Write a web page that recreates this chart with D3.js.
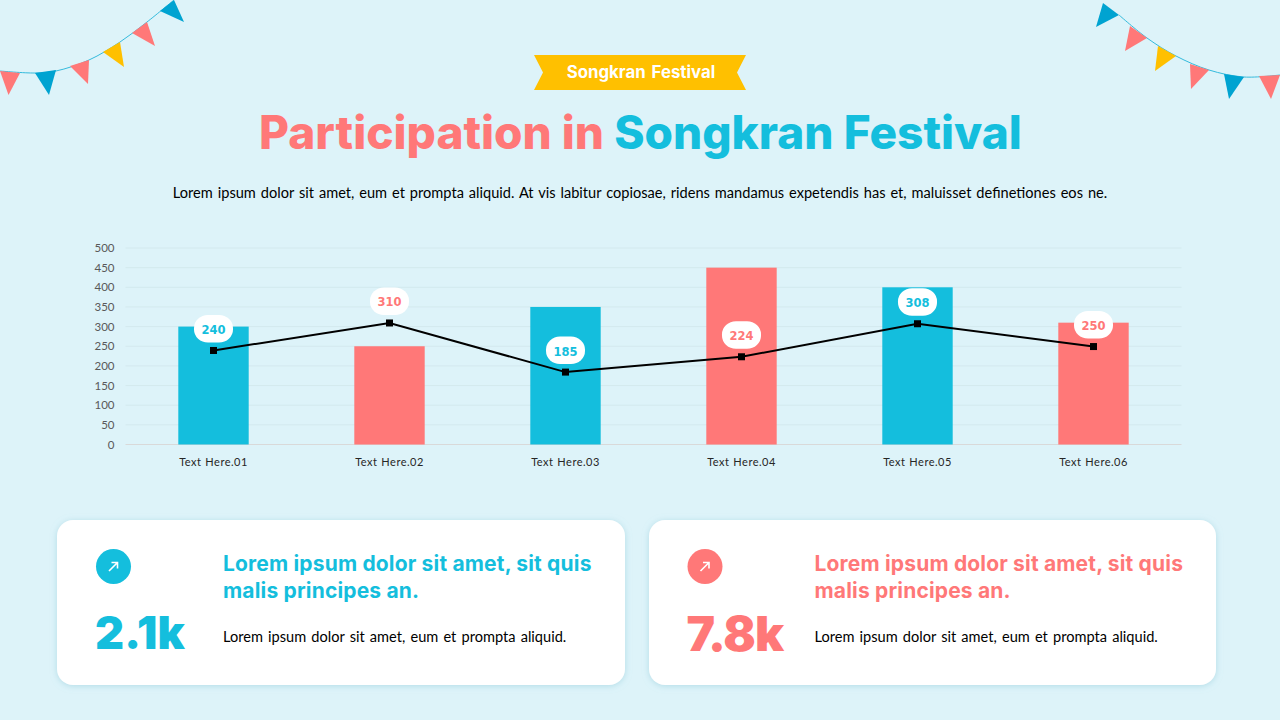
<!DOCTYPE html>
<html><head><meta charset="utf-8">
<script src="https://cdn.jsdelivr.net/npm/d3@7"></script>
<style>html,body{margin:0;padding:0;background:#DDF3F9}svg{display:block}</style></head>
<body><svg id="c" width="1280" height="720"></svg>
<script>
const categories=["Text Here.01","Text Here.02","Text Here.03","Text Here.04","Text Here.05","Text Here.06"];
const barValues=[300,250,350,450,400,310];
const lineValues=[240,310,185,224,308,250];
const yTicks=[0,50,100,150,200,250,300,350,400,450,500];
const BLUE="#14BEDD",RED="#FF7878",YEL="#FFC000",FLAG="#00A3D1";
const barColors=[BLUE,RED,BLUE,RED,BLUE,RED];
const labelColors=[BLUE,RED,BLUE,RED,BLUE,RED];
const flagsLeft=[[[0,71],[20,73],[8.5,95],RED],[[35,73],[56,70],[49,95],FLAG],[[70,66],[89,60],[88,84],RED],[[103,52],[120,42],[124,67],YEL],[[132,33],[147,22],[155,46],RED],[[160,11],[174,0],[184,22],FLAG]];
const flagsRight=[[[1103,3],[1119,15],[1096,27],FLAG],[[1130,26],[1147,38],[1125,51],RED],[[1158,46],[1176,56],[1155,71],YEL],[[1190,64],[1209,70],[1191,89],RED],[[1224,74],[1244,77],[1229,99],FLAG],[[1259,76],[1280,75],[1271,99],RED]];
const stringLeft=[[0,71],[35,73],[56,71],[89,60],[120,42],[147,22],[174,0]];
const stringRight=[[1119,15],[1147,38],[1176,56],[1209,70],[1244,77],[1280,75]];

const svg=d3.select("#c");
const defs=svg.append("defs");
const f=defs.append("filter").attr("id","sh").attr("x","-5%").attr("y","-10%").attr("width","110%").attr("height","120%");
f.append("feDropShadow").attr("dx",0).attr("dy",1).attr("stdDeviation",3).attr("flood-color","#8fc9d8").attr("flood-opacity",.55);

const sl=d3.line().curve(d3.curveCatmullRom);
[stringLeft,stringRight].forEach(s=>svg.append("path").attr("d",sl(s)).attr("fill","none").attr("stroke","#35BBDD").attr("stroke-width",1));
svg.append("g").selectAll("path").data(flagsLeft.concat(flagsRight)).join("path")
 .attr("d",d=>"M"+d.slice(0,3).map(p=>p.join(",")).join("L")+"Z").attr("fill",d=>d[3]);

svg.append("path").attr("d","M534,55H746L737,72.5L746,90H534L543,72.5Z").attr("fill",YEL);
svg.append("text").attr("x",641).attr("y",78).attr("text-anchor","middle").attr("fill","#fff")
 .attr("font-family","Inter").attr("font-weight",700).attr("font-size",16.8).attr("word-spacing",2).text("Songkran Festival");

const t=svg.append("text").attr("x",640.5).attr("y",149).attr("text-anchor","middle")
 .attr("font-family","Inter").attr("font-weight",800).attr("font-size",46).attr("letter-spacing",0);
t.append("tspan").attr("fill",RED).text("Participation in ");
t.append("tspan").attr("fill",BLUE).text("Songkran Festival");

svg.append("text").attr("x",640).attr("y",198).attr("text-anchor","middle").attr("fill","#000")
 .attr("font-family","Lato").attr("font-size",14.6).attr("word-spacing",1.2)
 .text("Lorem ipsum dolor sit amet, eum et prompta aliquid. At vis labitur copiosae, ridens mandamus expetendis has et, maluisset definetiones eos ne.");

const x=d3.scaleBand().domain(categories).range([125.5,1181.5]).paddingInner(.6).paddingOuter(.3);
const y=d3.scaleLinear().domain([0,500]).range([444.5,248]);
const g=svg.append("g");
g.append("g").selectAll("line").data(yTicks).join("line")
 .attr("x1",125.5).attr("x2",1181.5).attr("y1",d=>y(d)).attr("y2",d=>y(d))
 .attr("stroke",d=>d===0?"#D9D9D9":"#D3E9EE").attr("stroke-width",1);
const ax=g.append("g").attr("transform","translate(125.5,0)").call(d3.axisLeft(y).tickValues(yTicks).tickSize(0).tickPadding(11));
ax.select(".domain").remove();
ax.selectAll("text").attr("font-family","Lato").attr("font-size",11.5).attr("fill","#595959");
g.selectAll(".bar").data(barValues).join("rect").attr("class","bar")
 .attr("x",(d,i)=>x(categories[i])).attr("width",x.bandwidth())
 .attr("y",d=>y(d)).attr("height",d=>y(0)-y(d)).attr("fill",(d,i)=>barColors[i]);
const ax2=g.append("g").attr("transform","translate(0,446.5)").call(d3.axisBottom(x).tickSize(0).tickPadding(12));
ax2.select(".domain").remove();
ax2.selectAll("text").attr("font-family","Lato").attr("font-size",11).attr("letter-spacing",.5).attr("word-spacing",.6).attr("fill","#262626");
const cx=i=>x(categories[i])+x.bandwidth()/2;
const over=g.append("g").attr("transform","translate(0,.3)");
over.append("path").attr("d",d3.line().x((d,i)=>cx(i)).y(d=>y(d))(lineValues)).attr("fill","none").attr("stroke","#000").attr("stroke-width",2);
over.selectAll(".pt").data(lineValues).join("rect").attr("class","pt")
 .attr("x",(d,i)=>cx(i)-3.5).attr("y",d=>y(d)-3.5).attr("width",7).attr("height",7).attr("fill","#000");
over.selectAll(".pill").data(lineValues).join("rect").attr("class","pill")
 .attr("x",(d,i)=>cx(i)-19.5).attr("y",d=>y(d)-35.5).attr("width",39).attr("height",27.5).attr("rx",14).attr("ry",13).attr("fill","#fff");
over.selectAll(".lab").data(lineValues).join("text").attr("class","lab")
 .attr("x",(d,i)=>cx(i)).attr("y",d=>y(d)-16.5).attr("text-anchor","middle")
 .attr("font-family","DejaVu Sans").attr("font-weight",700).attr("font-size",11.5).attr("fill",(d,i)=>labelColors[i]).text(d=>d);

const cards=[{x:57,w:568,c:BLUE,big:"2.1k",off:0,by:649,bs:45,ls:.2},{x:649,w:567,c:RED,big:"7.8k",off:591.5,by:651,bs:48,ls:-1}];
cards.forEach(k=>{
 svg.append("rect").attr("x",k.x).attr("y",520).attr("width",k.w).attr("height",165).attr("rx",16).attr("fill","#fff").attr("filter","url(#sh)");
 const ic=svg.append("g").attr("transform",`translate(${113.5+k.off},${566.5})`);
 ic.append("circle").attr("r",17.5).attr("fill",k.c);
 ic.append("path").attr("d","M-4.5,4.5L4,-4M-2,-4H4V2").attr("fill","none").attr("stroke","#fff").attr("stroke-width",1.6);
 svg.append("text").attr("x",95+k.off).attr("y",k.by).attr("fill",k.c).attr("font-family","Inter").attr("font-weight",900).attr("font-size",k.bs).attr("letter-spacing",k.ls).text(k.big);
 ["Lorem ipsum dolor sit amet, sit quis","malis principes an."].forEach((s,i)=>
  svg.append("text").attr("x",223+k.off).attr("y",571+i*26.5).attr("fill",k.c).attr("font-family","Inter").attr("font-weight",700).attr("font-size",21).attr("letter-spacing",.17).text(s));
 svg.append("text").attr("x",223+k.off).attr("y",642).attr("fill","#000").attr("font-family","Lato").attr("font-size",14.6).attr("word-spacing",1.4).text("Lorem ipsum dolor sit amet, eum et prompta aliquid.");
});
</script></body></html>
